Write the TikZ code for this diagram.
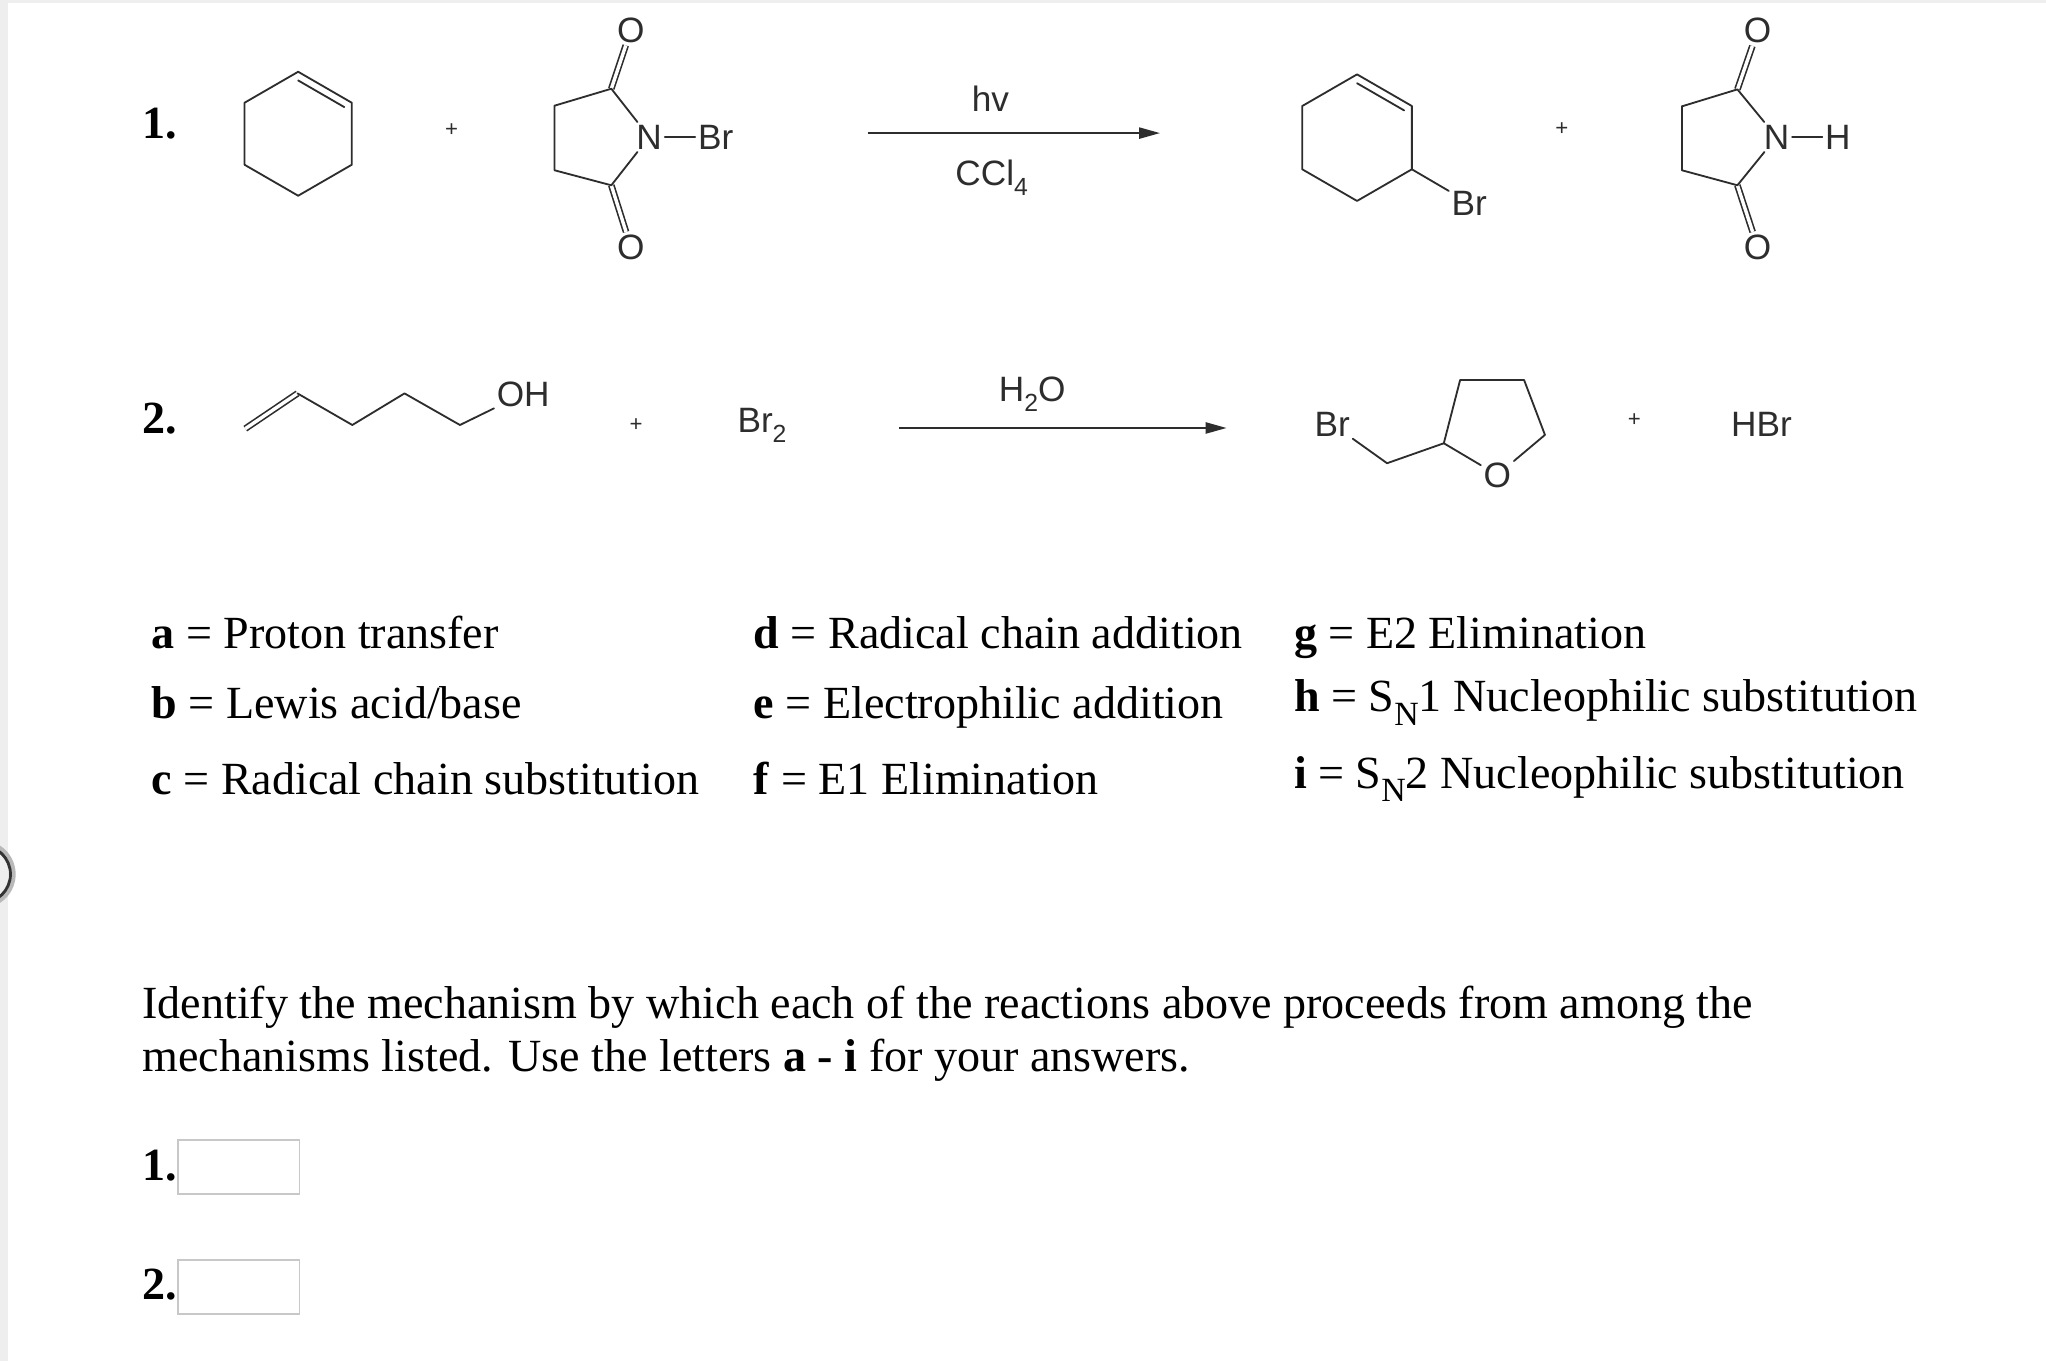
\documentclass[tikz,border=0pt]{standalone}
\usepackage{fontspec}
\setmainfont{Liberation Serif}
\newfontfamily\chemfont{Liberation Sans}
\usetikzlibrary{arrows.meta,calc}
\definecolor{bondc}{RGB}{45,45,45}
\definecolor{stripc}{RGB}{238,238,238}
\definecolor{boxc}{RGB}{200,200,200}
\tikzset{
  bond/.style={draw=bondc, line width=1.4pt, line cap=round, line join=round},
  dbond/.style={draw=bondc, line width=1.25pt, double=white, double distance=2.6pt, line cap=butt},
  atom/.style={font=\chemfont\fontsize{27}{27}\selectfont, text=bondc, inner sep=2pt},
  plussign/.style={font=\chemfont\fontsize{17}{17}\selectfont, text=bondc, inner sep=0pt},
  txt/.style={font=\fontsize{35.3}{40}\selectfont, anchor=base west, inner sep=0pt},
  numlbl/.style={font=\bfseries\fontsize{35.3}{40}\selectfont, anchor=base west, inner sep=0pt},
  ansbox/.style={draw=boxc, line width=1.2pt, fill=white, minimum width=93pt, minimum height=41.5pt, anchor=north west, inner sep=0pt},
  rxnarrow/.style={draw=bondc, line width=1.5pt, -{Triangle[length=16pt,width=8.5pt]}},
}
\newcommand{\chemsub}[1]{\raisebox{-0.28em}{\fontsize{19}{19}\selectfont #1}}
\newcommand{\txtsub}[1]{\raisebox{-0.3em}{\fontsize{26}{26}\selectfont #1}}
\begin{document}
\begin{tikzpicture}[x=1pt,y=-1pt]
\useasboundingbox (0,0) rectangle (1568,1043);
\fill[white] (0,0) rectangle (1568,1043);
\fill[stripc] (0,0) rectangle (6,1043);
\fill[stripc] (0,0) rectangle (1568,2);
% left round button edge
\draw[gray!55, line width=4pt] (-14,670) ++(-90:24) arc[start angle=-90, end angle=90, radius=24];
\draw[black!80, line width=2.2pt] (-14,670) ++(-90:22) arc[start angle=-90, end angle=90, radius=22];

% ---------------- Reaction 1 ----------------
\node[numlbl] (n1) at (109,106) {1.};
% cyclohexene
\coordinate (ra) at (228.5,102.5);
\coordinate (ra1) at (228.5,55);
\coordinate (ra2) at (269.6,78.75);
\coordinate (ra3) at (269.6,126.25);
\coordinate (ra4) at (228.5,150);
\coordinate (ra5) at (187.4,126.25);
\coordinate (ra6) at (187.4,78.75);
\draw[bond] (ra1) -- (ra2) -- (ra3) -- (ra4) -- (ra5) -- (ra6) -- cycle;
\draw[bond] ($(ra)!0.86!(ra1)$) -- ($(ra)!0.86!(ra2)$);
\node[plussign] (p1) at (346,100) {+};
% NBS
\node[atom] (nbsN) at (497.5,105) {N};
\node[atom] (nbsBr) at (548.5,105) {Br};
\node[atom] (nbsO1) at (483.5,23) {O};
\node[atom] (nbsO2) at (483.5,189.5) {O};
\coordinate (nbsC1) at (468.5,68);
\coordinate (nbsC2) at (468.5,142);
\coordinate (nbsC3) at (425,130.5);
\coordinate (nbsC4) at (425,81);
\draw[dbond] (nbsC1) -- (nbsO1);
\draw[dbond] (nbsC2) -- (nbsO2);
\draw[bond] (nbsC4) -- (nbsC1) -- (nbsN);
\draw[bond] (nbsN) -- (nbsC2) -- (nbsC3) -- (nbsC4);
\draw[bond] (nbsN) -- (nbsBr);
% arrow 1
\coordinate (a1s) at (665,102);
\coordinate (a1e) at (889,102);
\draw[rxnarrow] (a1s) -- (a1e);
\node[atom] (hv) at (759,76) {hv};
\node[atom] (ccl) at (760,136) {CCl\chemsub{4}};
% 3-bromocyclohexene
\coordinate (rb) at (1040,105.5);
\coordinate (rb1) at (1040,57);
\coordinate (rb2) at (1082,81.25);
\coordinate (rb3) at (1082,129.75);
\coordinate (rb4) at (1040,154);
\coordinate (rb5) at (998,129.75);
\coordinate (rb6) at (998,81.25);
\draw[bond] (rb1) -- (rb2) -- (rb3) -- (rb4) -- (rb5) -- (rb6) -- cycle;
\draw[bond] ($(rb)!0.86!(rb1)$) -- ($(rb)!0.86!(rb2)$);
\node[atom] (rbBr) at (1126,155.5) {Br};
\draw[bond] (rb3) -- (rbBr);
\node[plussign] (p2) at (1197,99) {+};
% succinimide
\node[atom] (sucN) at (1361.5,105) {N};
\node[atom] (sucH) at (1408.5,105) {H};
\node[atom] (sucO1) at (1347,23.5) {O};
\node[atom] (sucO2) at (1347,189.5) {O};
\coordinate (sucC1) at (1331.5,68.5);
\coordinate (sucC2) at (1331.5,142);
\coordinate (sucC3) at (1289,130.5);
\coordinate (sucC4) at (1289,81.5);
\draw[dbond] (sucC1) -- (sucO1);
\draw[dbond] (sucC2) -- (sucO2);
\draw[bond] (sucC4) -- (sucC1) -- (sucN);
\draw[bond] (sucN) -- (sucC2) -- (sucC3) -- (sucC4);
\draw[bond] (sucN) -- (sucH);

% ---------------- Reaction 2 ----------------
\node[numlbl] (n2) at (109,332) {2.};
\coordinate (ch1) at (188,328.5);
\coordinate (ch2) at (228,301.5);
\coordinate (ch3) at (270,325.7);
\coordinate (ch4) at (310,301.5);
\coordinate (ch5) at (352.5,325.7);
\node[atom] (chOH) at (401,302) {OH};
\draw[dbond] (ch1) -- (ch2);
\draw[bond] (ch2) -- (ch3) -- (ch4) -- (ch5) -- (chOH);
\node[plussign] (p3) at (487.5,326) {+};
\node[atom, anchor=west] (br2) at (563,326) {Br\chemsub{2}};
% arrow 2
\coordinate (a2s) at (689,328);
\coordinate (a2e) at (940,328);
\draw[rxnarrow] (a2s) -- (a2e);
\node[atom] (h2o) at (791,302) {H\chemsub{2}O};
% 2-(bromomethyl)tetrahydrofuran
\node[atom] (thBr) at (1021,325) {Br};
\coordinate (thC) at (1063,355);
\coordinate (th2) at (1106.5,339.7);
\coordinate (th3) at (1119,291.2);
\coordinate (th4) at (1168,291.2);
\coordinate (th5) at (1184,333.3);
\node[atom] (thO) at (1147.5,364) {O};
\draw[bond] (thBr) -- (thC) -- (th2) -- (th3) -- (th4) -- (th5) -- (thO);
\draw[bond] (thO) -- (th2);
\node[plussign] (p4) at (1252.5,322) {+};
\node[atom] (hbr) at (1350,325) {HBr};

% ---------------- Legend ----------------
\node[txt] (la) at (116,497) {\textbf{a} = Proton transfer};
\node[txt] (lb) at (116,550.5) {\textbf{b} = Lewis acid/base};
\node[txt] (lc) at (116,609) {\textbf{c} = Radical chain substitution};
\node[txt] (ld) at (577.5,497) {\textbf{d} = Radical chain addition};
\node[txt] (le) at (577.5,550.5) {\textbf{e} = Electrophilic addition};
\node[txt] (lf) at (577.5,609) {\textbf{f} = E1 Elimination};
\node[txt] (lg) at (991.5,497) {\textbf{g} = E2 Elimination};
\node[txt] (lh) at (991.5,545.5) {\textbf{h} = S\txtsub{N}1 Nucleophilic substitution};
\node[txt] (li) at (991.5,604) {\textbf{i} = S\txtsub{N}2 Nucleophilic substitution};

% ---------------- Question ----------------
\node[txt] (q1) at (109,780.3) {Identify the mechanism by which each of the reactions above proceeds from among the};
\node[txt] (q2) at (109,821) {mechanisms listed. Use the letters \textbf{a - i} for your answers.};
\node[numlbl] (ans1) at (109,905) {1.};
\node[ansbox] (box1) at (136,873) {};
\node[numlbl] (ans2) at (109,996) {2.};
\node[ansbox] (box2) at (136,965) {};
\end{tikzpicture}
\end{document}
